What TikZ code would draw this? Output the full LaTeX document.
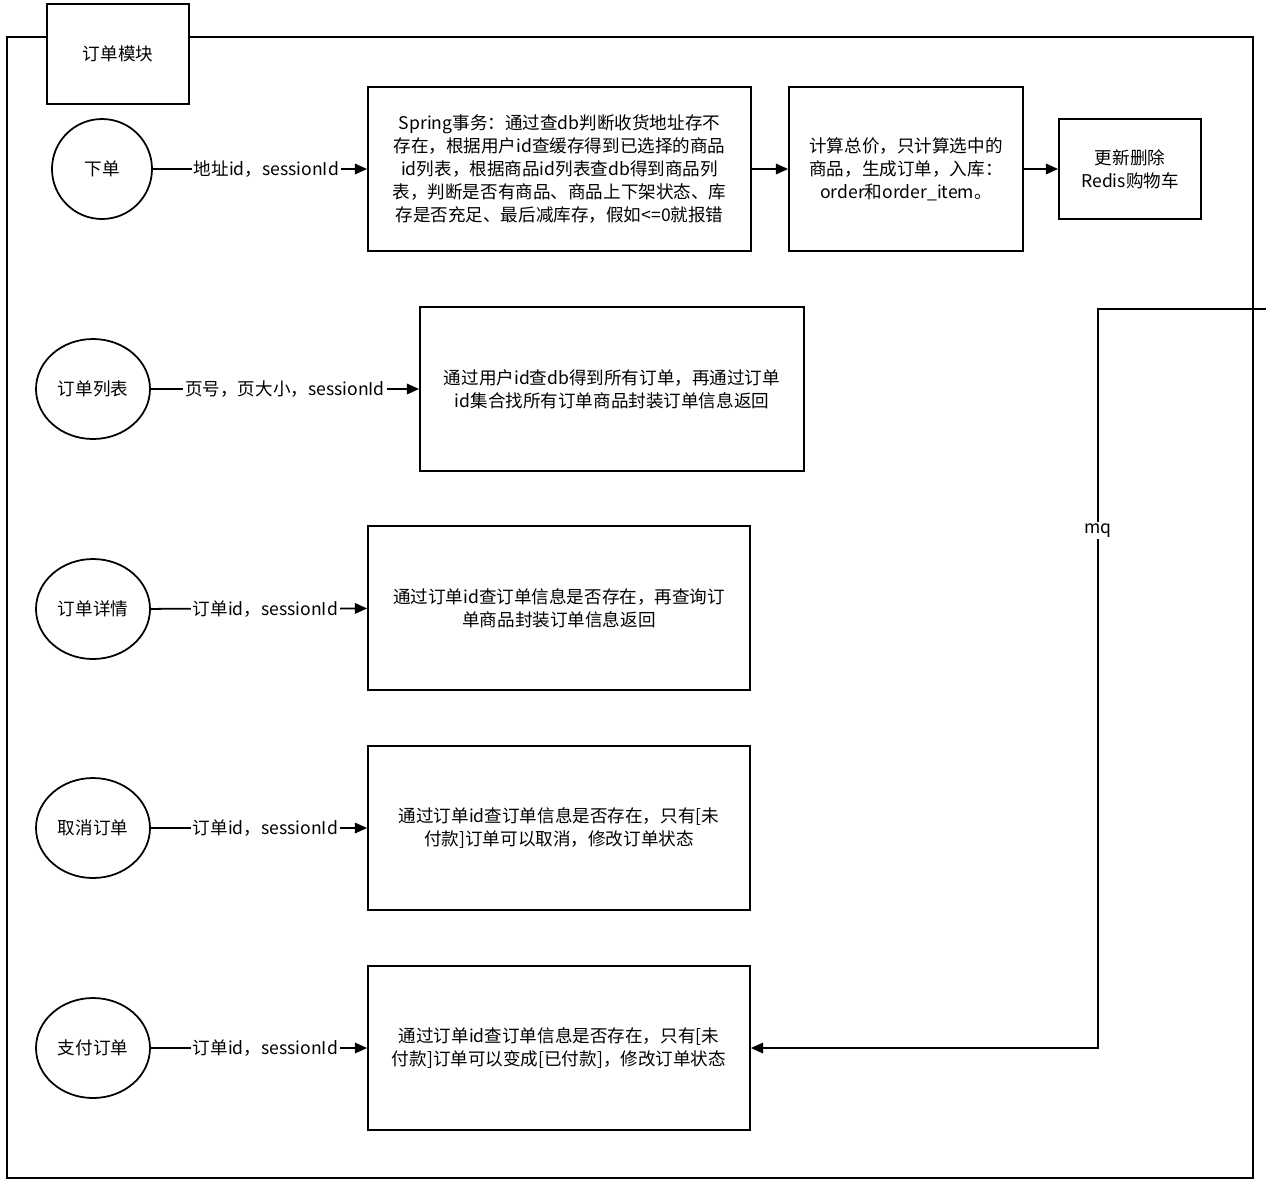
\documentclass[tikz,border=0pt]{standalone}
\usepackage{fontspec}
\setmainfont{Noto Sans CJK SC}
\usetikzlibrary{shapes.geometric,arrows.meta}
\begin{document}
\begin{tikzpicture}[x=0.02cm,y=-0.02cm,
  every node/.style={font=\fontsize{10}{13}\selectfont},
  box/.style={draw,line width=1pt,align=center,inner sep=0pt},
  circ/.style={draw,ellipse,line width=1pt,minimum width=114*0.02cm,minimum height=100*0.02cm,inner sep=0pt},
  conn/.style={line width=1pt,-{Triangle[length=7pt,width=6pt]}},
  lbl/.style={fill=white,inner sep=1pt}]
\useasboundingbox (0,0) rectangle (1266,1191);
\draw[line width=1.2pt] (7,37) rectangle (1253,1178);
\node[box,fill=white,minimum width=142*0.02cm,minimum height=100*0.02cm] (title) at (118,54) {订单模块};
% ellipses
\node[circ,minimum width=100*0.02cm] (e1) at (102,169) {下单};
\node[circ] (e2) at (93,389) {订单列表};
\node[circ] (e3) at (93,609) {订单详情};
\node[circ] (e4) at (93,828) {取消订单};
\node[circ] (e5) at (93,1048) {支付订单};
% boxes
\node[box,minimum width=383*0.02cm,minimum height=164*0.02cm] (b1) at (559.5,169) {Spring事务：通过查db判断收货地址存不\\存在，根据用户id查缓存得到已选择的商品\\id列表，根据商品id列表查db得到商品列\\表，判断是否有商品、商品上下架状态、库\\存是否充足、最后减库存，假如<=0就报错};
\node[box,minimum width=234*0.02cm,minimum height=164*0.02cm] (b2) at (906,169) {计算总价，只计算选中的\\商品，生成订单，入库：\\order和order\_item。};
\node[box,minimum width=142*0.02cm,minimum height=100*0.02cm] (b3) at (1130,169) {更新删除\\Redis购物车};
\node[box,minimum width=384*0.02cm,minimum height=164*0.02cm] (b4) at (612,389) {通过用户id查db得到所有订单，再通过订单\\id集合找所有订单商品封装订单信息返回};
\node[box,minimum width=382*0.02cm,minimum height=164*0.02cm] (b5) at (559,608) {通过订单id查订单信息是否存在，再查询订\\单商品封装订单信息返回};
\node[box,minimum width=382*0.02cm,minimum height=164*0.02cm] (b6) at (559,828) {通过订单id查订单信息是否存在，只有[未\\付款]订单可以取消，修改订单状态};
\node[box,minimum width=382*0.02cm,minimum height=164*0.02cm] (b7) at (559,1048) {通过订单id查订单信息是否存在，只有[未\\付款]订单可以变成[已付款]，修改订单状态};
% connectors
\draw[conn] (e1) -- node[lbl,pos=0.53]{地址id，sessionId} (b1);
\draw[conn] (b1) -- (b2);
\draw[conn] (b2) -- (b3);
\draw[conn] (e2) -- node[lbl,pos=0.5]{页号，页大小，sessionId} (b4);
\draw[conn] (e3) -- node[lbl,pos=0.53]{订单id，sessionId} (b5);
\draw[conn] (e4) -- node[lbl,pos=0.53]{订单id，sessionId} (b6);
\draw[conn] (e5) -- node[lbl,pos=0.53]{订单id，sessionId} (b7);
\coordinate (mqs) at (1268,309);
\draw[conn] (mqs) -- (1098,309) -- node[lbl,pos=0.3]{mq} (1098,1048) -- (b7.east);
\end{tikzpicture}
\end{document}
